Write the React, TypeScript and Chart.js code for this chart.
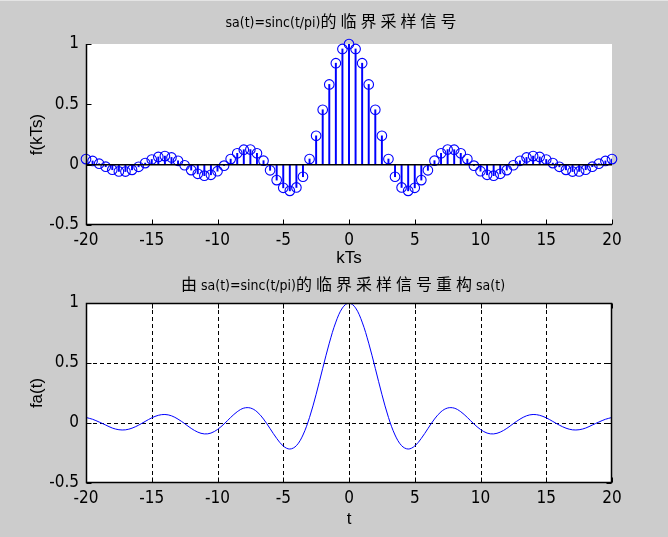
import React, { useEffect, useRef } from "react";
import { Chart, registerables } from "chart.js";

Chart.register(...registerables);

// sample instants kTs
const sampleTimes = [
  -20, -19.5, -19, -18.5, -18, -17.5, -17, -16.5, -16, -15.5, -15, -14.5, -14, -13.5, -13, -12.5,
  -12, -11.5, -11, -10.5, -10, -9.5, -9, -8.5, -8, -7.5, -7, -6.5, -6, -5.5, -5, -4.5, -4, -3.5,
  -3, -2.5, -2, -1.5, -1, -0.5, 0, 0.5, 1, 1.5, 2, 2.5, 3, 3.5, 4, 4.5, 5, 5.5, 6, 6.5, 7, 7.5,
  8, 8.5, 9, 9.5, 10, 10.5, 11, 11.5, 12, 12.5, 13, 13.5, 14, 14.5, 15, 15.5, 16, 16.5, 17, 17.5,
  18, 18.5, 19, 19.5, 20,
];

// sampled values f(kTs)
const sampleValues = [
  0.046, 0.031, 0.008, -0.017, -0.042, -0.056, -0.057, -0.043, -0.018, 0.013, 0.043, 0.064, 0.071,
  0.06, 0.032, -0.005, -0.045, -0.076, -0.091, -0.084, -0.054, -0.008, 0.046, 0.094, 0.124, 0.125,
  0.094, 0.033, -0.047, -0.128, -0.192, -0.217, -0.189, -0.1, 0.047, 0.239, 0.455, 0.665, 0.841,
  0.959, 1, 0.959, 0.841, 0.665, 0.455, 0.239, 0.047, -0.1, -0.189, -0.217, -0.192, -0.128, -0.047,
  0.033, 0.094, 0.125, 0.124, 0.094, 0.046, -0.008, -0.054, -0.084, -0.091, -0.076, -0.045, -0.005,
  0.032, 0.06, 0.071, 0.064, 0.043, 0.013, -0.018, -0.043, -0.057, -0.056, -0.042, -0.017, 0.008,
  0.031, 0.046,
];

// reconstructed signal fa(t)
const reconTimes = sampleTimes;
const reconValues = sampleValues;

const xTicks = [-20, -15, -10, -5, 0, 5, 10, 15, 20];
const yTicks = [-0.5, 0, 0.5, 1];

const topTitleA = "sa(t)=sinc(t/pi)";
const topTitleB = "的临界采样信号";
const botTitleA = "由";
const botTitleB = "sa(t)=sinc(t/pi)";
const botTitleC = "的临界采样信号重构";
const botTitleD = "sa(t)";
const topXLabel = "kTs";
const topYLabel = "f(kTs)";
const botXLabel = "t";
const botYLabel = "fa(t)";

const BLUE = "#0000ff";
const TICK_FONT = "'DejaVu Sans Condensed', 'Liberation Sans Narrow', sans-serif";
const LABEL_FONT = "'Liberation Sans', Arial, sans-serif";
const CJK_FONT = "'Noto Sans CJK SC', sans-serif";

const framePlugin = {
  id: "frame",
  beforeDraw(chart: any) {
    const { ctx, chartArea: a } = chart;
    ctx.save();
    ctx.fillStyle = "#ffffff";
    ctx.fillRect(a.left, a.top, a.right - a.left, a.bottom - a.top);
    ctx.restore();
  },
  beforeDatasetsDraw(chart: any, _args: any, opts: any) {
    if (!opts.grid) return;
    const { ctx, chartArea: a } = chart;
    const xs = chart.scales.x;
    const ys = chart.scales.y;
    ctx.save();
    ctx.strokeStyle = "#000";
    ctx.lineWidth = 1;
    ctx.setLineDash([4, 3]);
    ctx.beginPath();
    xTicks.slice(1, -1).forEach((v) => {
      const px = Math.round(xs.getPixelForValue(v)) + 0.5;
      ctx.moveTo(px, a.top);
      ctx.lineTo(px, a.bottom);
    });
    yTicks.slice(1, -1).forEach((v) => {
      const py = Math.round(ys.getPixelForValue(v)) + 0.5;
      ctx.moveTo(a.left, py);
      ctx.lineTo(a.right, py);
    });
    ctx.stroke();
    ctx.restore();
  },
  afterDatasetsDraw(chart: any, _args: any, opts: any) {
    const { ctx, chartArea: a } = chart;
    const xs = chart.scales.x;
    const ys = chart.scales.y;
    const L = Math.round(a.left) + 0.5;
    const R = Math.round(a.right) - 0.5;
    const T = Math.round(a.top) + 0.5;
    const B = Math.round(a.bottom) - 0.5;
    const len = 5;
    ctx.save();
    ctx.strokeStyle = "#000";
    ctx.lineWidth = 1;
    ctx.beginPath();
    xTicks.forEach((v) => {
      const px = Math.round(xs.getPixelForValue(v)) + 0.5;
      ctx.moveTo(px, B);
      ctx.lineTo(px, B - len);
      if (opts.box) {
        ctx.moveTo(px, T);
        ctx.lineTo(px, T + len);
      }
    });
    yTicks.forEach((v) => {
      const py = Math.round(ys.getPixelForValue(v)) + 0.5;
      ctx.moveTo(L, py);
      ctx.lineTo(L + len, py);
      if (opts.box) {
        ctx.moveTo(R, py);
        ctx.lineTo(R - len, py);
      }
    });
    ctx.stroke();
    ctx.lineWidth = 1.5;
    ctx.beginPath();
    if (opts.box) {
      ctx.rect(L, T, R - L, B - T);
    } else {
      ctx.moveTo(L, a.top);
      ctx.lineTo(L, B);
      ctx.lineTo(a.right, B);
    }
    ctx.stroke();
    ctx.restore();
  },
};

function makeScales(opts: {
  xHeight: number;
  xTitle: string;
  yTitle: string;
  xTitlePadBottom: number;
}) {
  const gridCfg = { display: false, drawTicks: false, offset: false };
  const borderCfg = { display: false };
  const fmt = (v: any) => `${v}`;
  return {
    x: {
      type: "linear" as const,
      min: -20,
      max: 20,
      offset: false,
      grid: gridCfg,
      border: borderCfg,
      afterBuildTicks: (s: any) => {
        s.ticks = xTicks.map((v) => ({ value: v }));
      },
      afterFit: (s: any) => {
        s.height = opts.xHeight;
      },
      ticks: {
        padding: 5,
        color: "#000",
        maxRotation: 0,
        autoSkip: false,
        callback: fmt,
        font: { family: TICK_FONT, size: 17 },
      },
      title: {
        display: true,
        text: opts.xTitle,
        color: "#000",
        font: { family: LABEL_FONT, size: 17 },
        padding: { top: 0, bottom: opts.xTitlePadBottom },
      },
    },
    y: {
      type: "linear" as const,
      min: -0.5,
      max: 1,
      grid: gridCfg,
      border: borderCfg,
      afterBuildTicks: (s: any) => {
        s.ticks = yTicks.map((v) => ({ value: v }));
      },
      afterFit: (s: any) => {
        s.width = 86;
      },
      ticks: {
        padding: 7,
        color: "#000",
        callback: fmt,
        font: { family: TICK_FONT, size: 17 },
      },
      title: {
        display: true,
        text: opts.yTitle,
        color: "#000",
        font: { family: LABEL_FONT, size: 17 },
        padding: { top: 27, bottom: 0 },
      },
    },
  };
}

export default function App() {
  const topRef = useRef<HTMLCanvasElement>(null);
  const botRef = useRef<HTMLCanvasElement>(null);

  useEffect(() => {
    const stemPoints = sampleTimes.map((t, i) => ({ x: t, y: sampleValues[i] }));
    const top = new Chart(topRef.current!, {
      type: "bar",
      data: {
        datasets: [
          {
            type: "line",
            label: "baseline",
            data: [
              { x: xTicks[0], y: 0 },
              { x: xTicks[xTicks.length - 1], y: 0 },
            ],
            borderColor: "#000",
            borderWidth: 1.5,
            pointRadius: 0,
            order: 0,
          } as any,
          {
            type: "line",
            label: "markers",
            data: stemPoints,
            showLine: false,
            pointStyle: "circle",
            pointRadius: 4.8,
            pointBorderWidth: 1.1,
            pointBorderColor: BLUE,
            pointBackgroundColor: "rgba(0,0,0,0)",
            clip: false,
            order: 1,
          } as any,
          {
            type: "bar",
            label: "stems",
            data: stemPoints,
            backgroundColor: BLUE,
            borderWidth: 0,
            barThickness: 1.3,
            order: 2,
          } as any,
        ],
      },
      options: {
        responsive: false,
        animation: false,
        events: [],
        layout: { padding: { top: 43, right: 56, bottom: 0, left: 0 } },
        plugins: {
          legend: { display: false },
          tooltip: { enabled: false },
          title: { display: false },
          frame: { box: false, grid: false },
        } as any,
        scales: makeScales({
          xHeight: 46,
          xTitle: topXLabel,
          yTitle: topYLabel,
          xTitlePadBottom: 2,
        }) as any,
      },
      plugins: [framePlugin],
    });

    const bot = new Chart(botRef.current!, {
      type: "line",
      data: {
        datasets: [
          {
            label: "fa(t)",
            data: reconTimes.map((t, i) => ({ x: t, y: reconValues[i] })),
            borderColor: BLUE,
            borderWidth: 1,
            pointRadius: 0,
            tension: 0.35,
          },
        ],
      },
      options: {
        responsive: false,
        animation: false,
        events: [],
        layout: { padding: { top: 34, right: 56, bottom: 0, left: 0 } },
        plugins: {
          legend: { display: false },
          tooltip: { enabled: false },
          title: { display: false },
          frame: { box: true, grid: true },
        } as any,
        scales: makeScales({
          xHeight: 55,
          xTitle: botXLabel,
          yTitle: botYLabel,
          xTitlePadBottom: 8,
        }) as any,
      },
      plugins: [framePlugin],
    });

    return () => {
      top.destroy();
      bot.destroy();
    };
  }, []);

  const latin: React.CSSProperties = { fontFamily: TICK_FONT, fontSize: 14 };
  const cjk: React.CSSProperties = { fontFamily: CJK_FONT, fontSize: 16, letterSpacing: 4 };
  const titleBase: React.CSSProperties = {
    position: "absolute",
    left: 343,
    transform: "translate(-50%, -50%)",
    whiteSpace: "nowrap",
    color: "#000",
    lineHeight: 1,
  };

  return (
    <div
      style={{
        position: "fixed",
        left: 0,
        top: 0,
        width: 668,
        height: 537,
        background: "#cccccc",
        overflow: "hidden",
        borderTop: "1px solid #e4e4e4",
        boxSizing: "border-box",
      }}
    >
      <canvas
        ref={topRef}
        width={668}
        height={270}
        style={{ position: "absolute", left: 0, top: 0 }}
      />
      <canvas
        ref={botRef}
        width={668}
        height={269}
        style={{ position: "absolute", left: 0, top: 268 }}
      />
      <div style={{ ...titleBase, top: 20 }}>
        <span style={latin}>{topTitleA}</span>
        <span style={cjk}>{topTitleB}</span>
      </div>
      <div style={{ ...titleBase, top: 283 }}>
        <span style={cjk}>{botTitleA}</span>
        <span style={latin}>{botTitleB}</span>
        <span style={cjk}>{botTitleC}</span>
        <span style={latin}>{botTitleD}</span>
      </div>
    </div>
  );
}
